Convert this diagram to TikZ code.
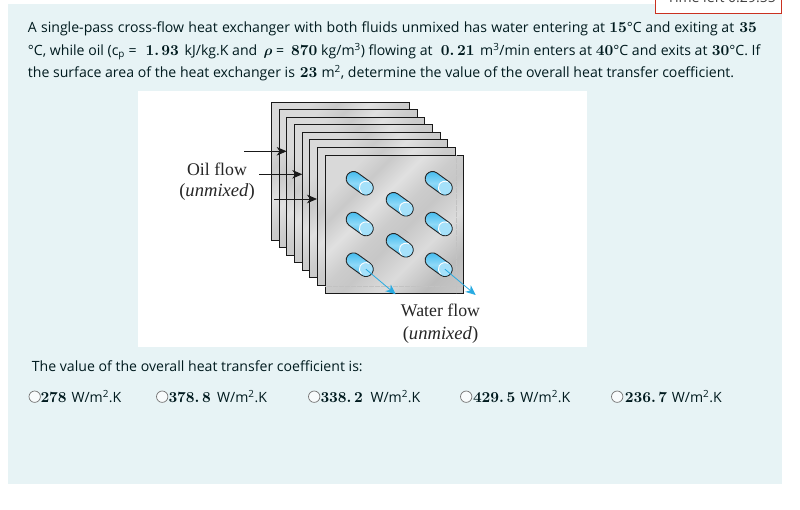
\documentclass[tikz,border=0pt]{standalone}
\usepackage{bm}
\usepackage{fontspec}
\setmainfont{Open Sans}
\newfontfamily\bookfont{Liberation Serif}
\newfontfamily\numfont{lmroman10-bold}[Extension=.otf]
\usepackage{xcolor}
\usetikzlibrary{arrows.meta}
\definecolor{panelbg}{HTML}{E7F3F5}
\definecolor{inkdark}{HTML}{001A1E}
\definecolor{timered}{HTML}{CA3120}
\definecolor{flowblue}{HTML}{29ABE2}
\definecolor{tubemid}{HTML}{8ED9F8}
\definecolor{tubeedge}{HTML}{35B5EC}
\definecolor{tubecap}{HTML}{A6E1FA}
\pgfdeclareverticalshading{metal}{100bp}{
  color(0bp)=(black!16); color(25bp)=(black!26); color(36bp)=(black!14);
  color(46bp)=(black!22); color(52bp)=(black!20); color(60bp)=(black!12);
  color(68bp)=(black!21); color(75bp)=(black!15); color(100bp)=(black!15)}
\newcommand{\numb}[1]{{\numfont\fontsize{15.2}{16}\selectfont #1}}
\newcommand{\seg}[2]{\makebox[#1pt][l]{#2}}
\begin{document}
\begin{tikzpicture}
[
  x = 1pt, y = 1pt,
  panel/.style      = {shape=rectangle, fill=panelbg, inner sep=0pt, outer sep=0pt},
  figbox/.style     = {shape=rectangle, fill=white, inner sep=0pt, outer sep=0pt},
  timebox/.style    = {shape=rectangle, draw=timered, line width=0.9pt, fill=white,
                       inner sep=0pt, minimum width=126pt, minimum height=30pt},
  body/.style       = {anchor=base west, inner sep=0pt, text=inkdark,
                       font=\fontsize{14.1}{16}\selectfont},
  caption/.style    = {anchor=base, inner sep=0pt, text=black!85,
                       font=\bookfont\fontsize{17.8}{20}\selectfont},
  plate/.style      = {shape=rectangle, draw=black!90, line width=1pt, shading=metal,
                       shading angle=45, minimum size=138pt, inner sep=0pt, outer sep=0pt},
  seam/.style       = {draw=black!24, line width=0.2pt, densely dotted},
  tube/.style       = {shape=rectangle, draw=black!85, line width=0.9pt, rounded corners=7.3pt,
                       top color=tubeedge, bottom color=tubeedge, middle color=tubemid,
                       minimum width=30pt, minimum height=14.6pt, inner sep=0pt, rotate=-36},
  tubeend/.style    = {shape=circle, fill=tubecap, minimum size=13.4pt, inner sep=0pt},
  radio/.style      = {shape=circle, draw=black!55, line width=0.7pt, fill=white!70!panelbg,
                       minimum size=11.4pt, inner sep=0pt},
  oilarrow/.style   = {draw=black!90, line width=0.8pt,
                       -{Stealth[length=10pt, width=8.5pt, inset=3pt]}},
  waterarrow/.style = {draw=flowblue, line width=0.8pt,
                       -{Stealth[length=10pt, width=8.5pt, inset=3pt]}}
]
\clip (0,0) rectangle (800,509);
\node [panel, minimum width=774pt, minimum height=480pt] (question) at (395,265) {};
\node [timebox] (timer) at (718.5,510.7) {};
\node [body, text=black!75] (timetext) at (667,506) {Time left 0:29:55};

\node [body] (line1) at (27.7,476) {\makebox[581.5pt][s]{A single-pass cross-flow heat exchanger with both fluids unmixed has water entering at\ }\seg{130}{\numb{15}°C and exiting at}\numb{35}};
\node [body] (line2) at (27.7,453.4) {\seg{117.8}{°C, while oil (c\textsubscript{p} =}\seg{39}{\numb{1.\hspace{2pt}93}}\seg{79}{kJ/kg.K and}\seg{27.5}{$\bm{\rho}$ =}\seg{30}{\numb{870}}\seg{119.7}{kg/m\textsuperscript{3}) flowing at}\seg{39.3}{\numb{0.\,21}}\seg{115.7}{m\textsuperscript{3}/min enters at}\seg{116}{\numb{40}°C and exits at}\numb{30}°C. If};
\node [body] (line3) at (27.7,431) {\seg{272}{the surface area of the heat exchanger is}\seg{21.7}{\numb{23}}m\textsuperscript{2}, determine the value of the overall heat transfer coefficient.};

\node [figbox, minimum width=449pt, minimum height=256pt] (figure) at (362.5,290) {};

\foreach \n/\px/\py in {1/340.3/337.3, 2/348.3/330.7, 3/355.7/322.7, 4/363.3/315,
                        5/371.3/307.7, 6/378/300, 7/386/292, 8/394.3/284.7}
  \node [plate] (plate\n) at (\px,\py) {};
\draw [seam] ([yshift=7pt]plate8.south west) -- ([yshift=7pt]plate8.south east);
\draw [seam] ([xshift=-7pt]plate8.north east) -- ([xshift=-7pt]plate8.south east);

\foreach \n/\tx/\ty in {1/359.7/325.7, 2/438.7/325.7, 3/399.7/304.7, 4/359.7/285,
                        5/438.7/285, 6/399.7/263.7, 7/359.7/244.3, 8/438.7/244.3}
{
  \node [tube] (tube\n) at (\tx,\ty) {};
  \node [tubeend] (end\n) at ([shift={(6.2,-4.5)}]tube\n.center) {};
  \draw [white, line width=0.9pt] ([shift={(60:6.6)}]end\n.center) arc [start angle=60, end angle=228, radius=6.6];
}

\coordinate (oilin1) at (244,357.7);
\coordinate (oilhead1) at (286.7,357.7);
\coordinate (oilin2) at (259.3,334.7);
\coordinate (oilhead2) at (302.3,334.7);
\coordinate (oilin3) at (274,310);
\coordinate (oilhead3) at (317,310);
\foreach \n in {1,2,3}
  \draw [oilarrow] (oilin\n) -- (oilhead\n);

\coordinate (waterhead1) at (395.7,214.7);
\coordinate (waterhead2) at (475.7,214);
\draw [waterarrow] (end7.center) -- (waterhead1);
\draw [waterarrow] (end8.center) -- (waterhead2);

\node [caption] (oilname) at (217,333) {Oil flow};
\node [caption, font=\bookfont\fontsize{18.6}{20}\selectfont] (oilnote) at (217,312) {(\textit{unmixed})};
\node [caption] (watername) at (440.5,192.3) {Water flow};
\node [caption, font=\bookfont\fontsize{18.6}{20}\selectfont] (waternote) at (440.5,170) {(\textit{unmixed})};

\node [body] (prompt) at (31.7,137.3) {The value of the overall heat transfer coefficient is:};

\foreach \n/\rx/\ax/\gap/\val in {1/34.7/40.3/31/278, 2/162.2/168.3/48.6/378.\,8, 3/314.2/320.3/50/338.\,2,
                                  4/466.2/472.8/47.4/429.\,5, 5/617.2/624.6/47/236.\,7}
{
  \node [radio] (radio\n) at (\rx,112.3) {};
  \node [body] (option\n) at (\ax,106.7) {\seg{\gap}{\numb{\val}}W/m\textsuperscript{2}.K};
}
\end{tikzpicture}
\end{document}
